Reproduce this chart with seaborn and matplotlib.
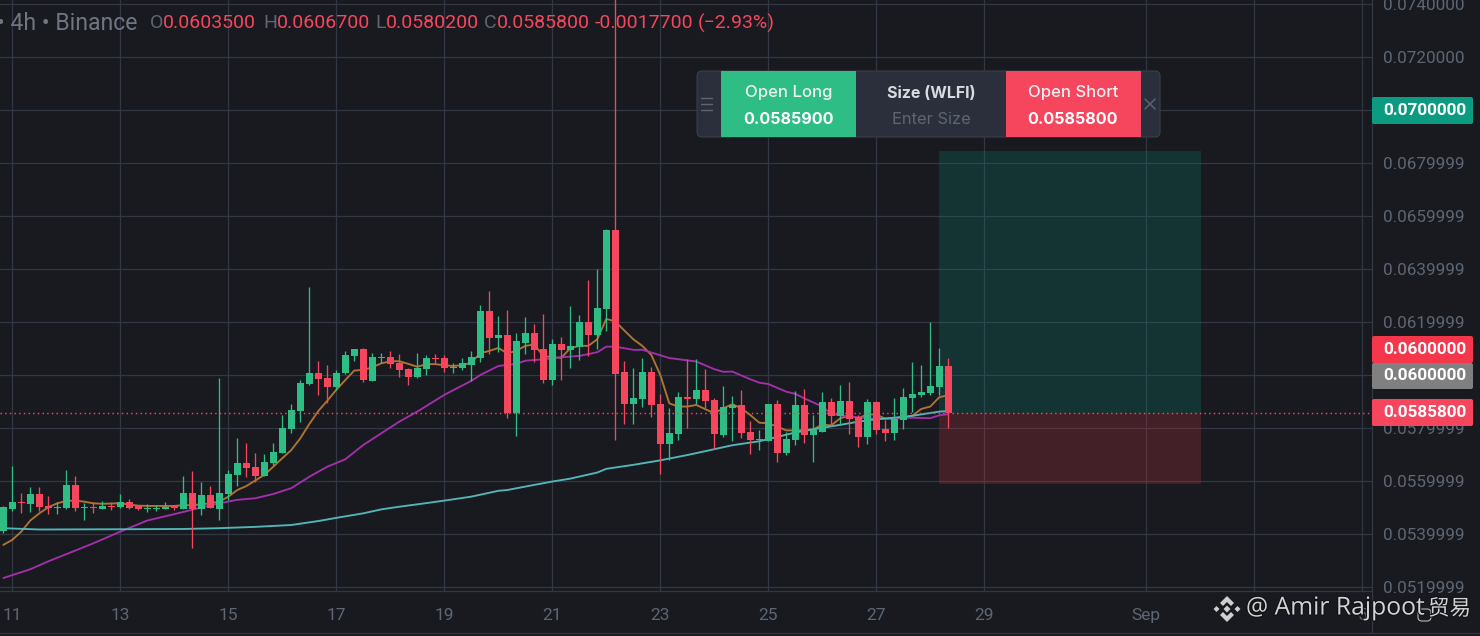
# WLFI/USDT 4h candles with moving averages and a long position box
import matplotlib
matplotlib.use('Agg')
import matplotlib.pyplot as plt
import matplotlib.patheffects as pe
from matplotlib.patches import FancyBboxPatch, Polygon, Rectangle
import numpy as np
import pandas as pd
import seaborn as sns

# all prices in units of 0.00001
opens = [5414, 5496, 5522, 5515, 5552, 5507, 5499, 5499, 5586, 5499,
         5503, 5496, 5508, 5503, 5522, 5507, 5496, 5496, 5496, 5507,
         5496, 5556, 5496, 5548, 5496, 5552, 5624, 5669, 5654, 5620,
         5669, 5707, 5798, 5865, 5967, 6009, 5990, 5956, 6009, 6073,
         6100, 5979, 6066, 6069, 6047, 6024, 5994, 6024, 6066, 6066,
         6028, 6028, 6039, 6066, 6243, 6141, 6152, 5858, 6122, 6160,
         6100, 5982, 6118, 6096, 6107, 6201, 6152, 6250, 6548, 6013,
         5892, 5911, 6013, 5892, 5741, 5779, 5918, 5911, 5945, 5907,
         5775, 5877, 5888, 5786, 5755, 5752, 5892, 5707, 5756, 5888,
         5775, 5786, 5899, 5847, 5903, 5843, 5767, 5899, 5798, 5782,
         5831, 5915, 5926, 5933, 5956, 6035]
highs = [5507, 5658, 5556, 5579, 5579, 5545, 5522, 5643, 5620, 5518,
         5522, 5526, 5522, 5552, 5533, 5511, 5515, 5511, 5522, 5511,
         5620, 5639, 5598, 5582, 5990, 5643, 5764, 5745, 5707, 5703,
         5745, 5850, 5892, 5982, 6333, 6054, 6039, 6020, 6092, 6100,
         6103, 6084, 6084, 6092, 6081, 6028, 6084, 6077, 6081, 6077,
         6047, 6066, 6092, 6266, 6318, 6224, 6247, 6160, 6220, 6194,
         6232, 6137, 6145, 6262, 6228, 6360, 6401, 6552, 7650, 6054,
         6028, 6065, 6031, 5930, 5877, 5937, 6062, 6062, 6024, 5915,
         5960, 5922, 5945, 5828, 5794, 5892, 5907, 5786, 5941, 5949,
         5850, 5937, 5915, 5964, 5975, 5850, 5911, 5903, 5832, 5915,
         5952, 6050, 6039, 6201, 6103, 6067]
lows = [5406, 5486, 5482, 5484, 5488, 5477, 5477, 5496, 5488, 5454,
        5481, 5496, 5492, 5499, 5496, 5492, 5484, 5488, 5496, 5492,
        5496, 5348, 5473, 5499, 5454, 5530, 5582, 5616, 5598, 5620,
        5662, 5707, 5782, 5824, 5964, 5926, 5896, 5945, 6005, 6054,
        5975, 5979, 6047, 6028, 5994, 5964, 5990, 6001, 6043, 6013,
        6009, 6020, 5979, 6050, 6081, 6088, 5839, 5771, 6081, 6050,
        5971, 5964, 5982, 6028, 6058, 6073, 6099, 6167, 5756, 5816,
        5816, 5880, 5843, 5628, 5680, 5756, 5801, 5892, 5877, 5722,
        5767, 5752, 5764, 5703, 5718, 5752, 5673, 5699, 5737, 5745,
        5673, 5786, 5809, 5813, 5779, 5730, 5741, 5779, 5752, 5756,
        5798, 5862, 5918, 5926, 5926, 5802]
closes = [5503, 5522, 5518, 5552, 5503, 5499, 5503, 5586, 5499, 5503,
          5499, 5507, 5504, 5522, 5499, 5496, 5499, 5499, 5503, 5499,
          5556, 5496, 5548, 5499, 5556, 5628, 5669, 5650, 5620, 5673,
          5711, 5801, 5869, 5971, 6009, 5986, 5956, 6009, 6077, 6100,
          5982, 6069, 6069, 6043, 6020, 5994, 6028, 6066, 6062, 6028,
          6032, 6047, 6069, 6243, 6141, 6152, 5858, 6130, 6160, 6096,
          5982, 6118, 6096, 6111, 6201, 6152, 6254, 6548, 6005, 5892,
          5915, 6013, 5888, 5741, 5782, 5918, 5911, 5945, 5903, 5779,
          5880, 5888, 5782, 5756, 5758, 5892, 5707, 5760, 5888, 5775,
          5794, 5899, 5847, 5903, 5835, 5767, 5899, 5794, 5782, 5835,
          5918, 5930, 5937, 5960, 6035, 5858]

ma_fast = [5360, 5379, 5410, 5452, 5479, 5502, 5517, 5526, 5527, 5523,
           5517, 5515, 5516, 5517, 5512, 5508, 5507, 5507, 5507, 5507,
           5510, 5510, 5513, 5517, 5523, 5542, 5567, 5582, 5603, 5624,
           5655, 5687, 5718, 5762, 5816, 5865, 5904, 5945, 5982, 6018,
           6020, 6030, 6045, 6053, 6053, 6043, 6032, 6042, 6042, 6038,
           6035, 6038, 6048, 6083, 6092, 6103, 6083, 6092, 6111, 6116,
           6073, 6068, 6066, 6102, 6111, 6111, 6136, 6213, 6203, 6169,
           6136, 6111, 6077, 6001, 5894, 5882, 5882, 5888, 5872, 5857,
           5875, 5891, 5875, 5850, 5821, 5819, 5806, 5792, 5792, 5794,
           5796, 5814, 5811, 5838, 5847, 5838, 5852, 5852, 5836, 5838,
           5839, 5847, 5873, 5882, 5917, 5925]

ma_mid_idx = [0, 3, 5, 7, 10, 13, 16, 19, 22, 24, 26, 28, 30, 32, 34, 36, 38, 40,
              44, 46, 49, 52, 53, 55, 57, 58, 60, 62, 64, 66, 67, 68, 70, 71, 72,
              74, 77, 79, 80, 81, 83, 84, 85, 87, 88, 89, 91, 92, 94, 96, 98, 101,
              103, 104, 105]
ma_mid = [5235, 5268, 5298, 5325, 5366, 5410, 5452, 5476, 5501, 5517, 5530, 5536,
          5552, 5574, 5617, 5655, 5683, 5737, 5825, 5863, 5926, 5979, 6001, 6035,
          6043, 6055, 6060, 6068, 6073, 6087, 6108, 6108, 6096, 6096, 6086, 6065,
          6052, 6023, 6013, 6014, 5985, 5972, 5967, 5938, 5930, 5913, 5882, 5854,
          5844, 5838, 5835, 5840, 5838, 5849, 5853]

ma_slow_idx = [0, 4, 13, 20, 24, 28, 32, 35, 37, 40, 42, 44, 46, 49, 52, 55, 56, 58,
               61, 63, 66, 67, 70, 73, 76, 79, 81, 84, 88, 90, 93, 95, 97, 99, 101,
               104, 105]
ma_slow = [5423, 5418, 5419, 5420, 5423, 5428, 5435, 5450, 5462, 5479, 5494, 5504,
           5513, 5527, 5542, 5564, 5567, 5580, 5599, 5610, 5633, 5647, 5662, 5679,
           5699, 5721, 5736, 5751, 5784, 5796, 5813, 5825, 5834, 5840, 5847, 5863,
           5865]

date_ticks = [1, 13, 25, 37, 49, 61, 73, 85, 97, 109, 127, 139, 151]
date_labels = ['11', '13', '15', '17', '19', '21', '23', '25', '27', '29', 'Sep', '', '5']
price_ticks = [0.052, 0.054, 0.056, 0.058, 0.060, 0.062, 0.064, 0.066, 0.068, 0.070, 0.072, 0.074]
price_labels = ['0.0519999', '0.0539999', '0.0559999', '0.0579999', '0.0600000', '0.0619999',
                '0.0639999', '0.0659999', '0.0679999', '0.0700000', '0.0720000', '0.0740000']

box_start, box_end = 104, 133.1
target_price, entry_price, stop_price = 0.06845, 0.05858, 0.0559

BG = '#181a20'
GRID = '#313743'
GREEN = '#2ebd85'
RED = '#f6465d'
MUTED = '#5e6673'

sns.set_theme(style='darkgrid', rc={
    'figure.facecolor': BG, 'axes.facecolor': BG, 'grid.color': GRID, 'grid.linewidth': 0.9,
    'axes.edgecolor': GRID, 'axes.linewidth': 0.9, 'xtick.color': MUTED, 'ytick.color': MUTED,
})
plt.rcParams['font.family'] = ['Roboto', 'Noto Sans CJK SC', 'DejaVu Sans']

df = pd.DataFrame({'open': opens, 'high': highs, 'low': lows, 'close': closes}) / 1e5
df['idx'] = df.index
up = df['close'] >= df['open']

fig = plt.figure(figsize=(14.8, 6.36), dpi=100)
ax = fig.add_axes([0, 45 / 636, 1372 / 1480, 591 / 636])

# position box behind the candles
ax.add_patch(Rectangle((box_start, entry_price), box_end - box_start, target_price - entry_price,
                       color='#089981', alpha=0.2, lw=0, zorder=1))
ax.add_patch(Rectangle((box_start, stop_price), box_end - box_start, entry_price - stop_price,
                       color='#f23645', alpha=0.2, lw=0, zorder=1))

sns.lineplot(x=df['idx'], y=np.array(ma_fast) / 1e5, ax=ax, color='#b0742f', linewidth=1.35, zorder=2)
sns.lineplot(x=ma_mid_idx, y=np.array(ma_mid) / 1e5, ax=ax, color='#a32fab', linewidth=1.35, zorder=2)
sns.lineplot(x=ma_slow_idx, y=np.array(ma_slow) / 1e5, ax=ax, color='#52b6b8', linewidth=1.35, zorder=2)

colors = np.where(up, GREEN, RED)
ax.vlines(df['idx'], df['low'], df['high'], colors=colors, linewidth=0.95, zorder=3)
ax.bar(df['idx'], (df['close'] - df['open']).abs(), bottom=df[['open', 'close']].min(axis=1),
       width=0.78, color=colors, linewidth=0, zorder=4)

ax.axhline(entry_price, color=RED, linewidth=1.05, linestyle=(0, (1, 2.2)), zorder=5)

ax.set_xlim(-0.367, 152.08)
ax.set_ylim(0.05186, 0.07416)
ax.set_xticks(date_ticks, date_labels)
ax.set_yticks(price_ticks, price_labels)
ax.yaxis.tick_right()
ax.tick_params(axis='x', length=0, pad=12, labelsize=12.5)
ax.tick_params(axis='y', length=0, pad=8, labelsize=12.3)
ax.set_xlabel('')
ax.set_ylabel('')
for name in ['top', 'left']:
    ax.spines[name].set_visible(False)

# pixel-space layer for the trading widgets, tags and watermark
ov = fig.add_axes([0, 0, 1, 1])
ov.set_xlim(0, 1480)
ov.set_ylim(636, 0)
ov.axis('off')
ov.patch.set_visible(False)

ov.plot([0, 1480], [633, 633], color=GRID, lw=0.9)
ov.plot([1372, 1372], [591, 633], color=GRID, lw=0.9)

# header
header = [(-3, '• 4h • Binance', 16.6, '#6f7682'), (150, 'O', 14, MUTED), (163, '0.0603500', 14, RED),
          (263, 'H', 14, MUTED), (277, '0.0606700', 14, RED), (375, 'L', 14, MUTED),
          (386, '0.0580200', 14, RED), (484, 'C', 14, MUTED), (497, '0.0585800', 14, RED),
          (595, '-0.0017700', 14, RED), (698, '(−2.93%)', 14, RED)]
for x, txt, size, col in header:
    ov.text(x, 23, txt, color=col, va='center', ha='left', fontsize=size)

# order panel
ov.add_patch(FancyBboxPatch((697, 71), 463, 66, boxstyle='round,pad=0,rounding_size=5',
                            fc='#2a2f3b', ec='#3a3f4a', lw=0.8))
ov.add_patch(Rectangle((721, 71), 135, 66, fc=GREEN, lw=0))
ov.add_patch(Rectangle((1006, 71), 135, 66, fc=RED, lw=0))
for yy in [98, 104, 110]:
    ov.plot([701, 712], [yy, yy], color='#5e6673', lw=1)
ov.plot([1145, 1155], [99, 109], color='#5e6673', lw=1)
ov.plot([1145, 1155], [109, 99], color='#5e6673', lw=1)
panel_font = ['Inter', 'DejaVu Sans']
ov.text(788.5, 93, 'Open Long', color='#eef0f2', ha='center', va='center', fontsize=12, family=panel_font, weight=500)
ov.text(788.5, 120, '0.0585900', color='white', ha='center', va='center', fontsize=11.6, family=panel_font, weight='bold')
ov.text(931, 93, 'Size (WLFI)', color='#d8dbe0', ha='center', va='center', fontsize=11.5, family=panel_font, weight='bold')
ov.text(931, 120, 'Enter Size', color='#5e6673', ha='center', va='center', fontsize=11.9, family=panel_font)
ov.text(1073, 93, 'Open Short', color='#eef0f2', ha='center', va='center', fontsize=12, family=panel_font, weight=500)
ov.text(1073, 120, '0.0585800', color='white', ha='center', va='center', fontsize=11.6, family=panel_font, weight='bold')

# price tags on the scale
tags = [(97, 124, '#0b9b80', '0.0700000'), (336, 363, '#f6364a', '0.0600000'),
        (363, 389, '#808080', '0.0600000'), (399, 426, RED, '0.0585800')]
for y0, y1, col, txt in tags:
    ov.add_patch(FancyBboxPatch((1372, y0), 101, y1 - y0, boxstyle='round,pad=0,rounding_size=2', fc=col, lw=0))
    ov.text(1383, (y0 + y1) / 2, txt, color='white', va='center', ha='left', fontsize=12.3, weight='bold')

# watermark
logo = '#cfcfcf'
cx, cy = 1227, 609
for dx, dy, r in [(0, 0, 3.5), (-10.5, 0, 3), (10.5, 0, 3)]:
    ov.add_patch(Polygon([(cx + dx - r, cy + dy), (cx + dx, cy + dy - r), (cx + dx + r, cy + dy), (cx + dx, cy + dy + r)], fc=logo, lw=0))
ov.add_patch(Polygon([(cx - 7, cy - 6), (cx, cy - 13), (cx + 7, cy - 6), (cx + 4, cy - 3), (cx, cy - 7), (cx - 4, cy - 3)], fc=logo, lw=0))
ov.add_patch(Polygon([(cx - 7, cy + 6), (cx, cy + 13), (cx + 7, cy + 6), (cx + 4, cy + 3), (cx, cy + 7), (cx - 4, cy + 3)], fc=logo, lw=0))
shadow = [pe.withStroke(linewidth=1.5, foreground='#101116')]
ov.text(1246, 608, '@ Amir Rajpoot', color='#d2d2d2', va='center', ha='left', fontsize=17.8,
        family=['Open Sans', 'DejaVu Sans'], path_effects=shadow)
ov.text(1428, 609, '贸易', color='#d2d2d2', va='center', ha='left', fontsize=15.5,
        family=['Noto Sans CJK SC', 'DejaVu Sans'], path_effects=shadow)
ov.add_patch(FancyBboxPatch((1418, 609), 13, 12, boxstyle='round,pad=0,rounding_size=4', fc='none', ec='#b8b8b8', lw=0.8))

fig.savefig('out.png', dpi=100, facecolor=BG)
